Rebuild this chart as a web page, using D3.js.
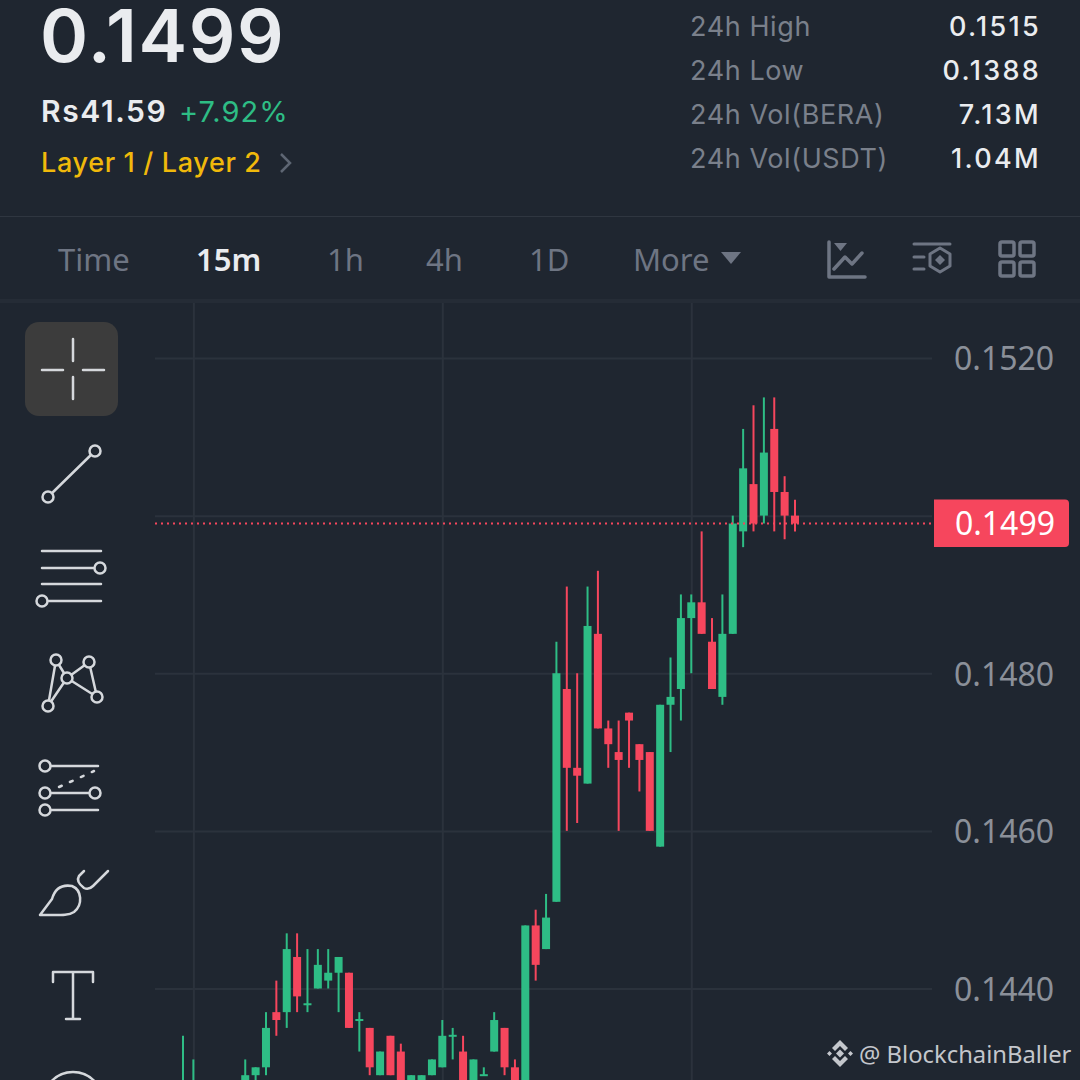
<!DOCTYPE html>
<html>
<head>
<meta charset="utf-8">
<script src="https://cdn.jsdelivr.net/npm/d3@7"></script>
<style>
html, body { margin: 0; padding: 0; background: #1f2630; overflow: hidden; }
svg { display: block; font-family: "Noto Sans", sans-serif; }
</style>
</head>
<body>
<svg id="chart" width="1080" height="1080"></svg>
<script>
// candle values, oldest first (first few and some lows are below the visible area, so estimated)
const open = [.1420,.1418,.1424,.1421,.1422,.1420,.1423,.1429,.1430,.1437,.1437,.1444,.1438,.1440,.1441,.1442,.1442,.1436,.1435,.1429,.1434,.1432,.1427,.1426,.1429,.1430,.1434,.1432,.1427,.1429,.1432,.1435,.1430,.1422,.1448,.1445,.1451,.1478,.1468,.1466,.1485,.1473,.1470,.1475,.1471,.1470,.1458,.1476,.1478,.1487,.1489,.1484,.1477,.1485,.1498,.1504,.1500,.1511,.1503,.1500];
const high = [.1434,.1431,.1426,.1425,.1424,.1426,.1431,.1430,.1437,.1441,.1447,.1447,.1445,.1445,.1445,.1444,.1442,.1437,.1435,.1432,.1434,.1433,.1429,.1429,.1431,.1436,.1435,.1434,.1431,.1430,.1437,.1435,.1431,.1448,.1450,.1452,.1484,.1491,.1480,.1491,.1493,.1474,.1474,.1475,.1471,.1470,.1476,.1482,.1490,.1490,.1498,.1487,.1490,.1500,.1511,.1514,.1515,.1515,.1505,.1502];
const low = [.1415,.1415,.1419,.1418,.1417,.1418,.1421,.1427,.1429,.1434,.1435,.1437,.1437,.1440,.1440,.1437,.1435,.1432,.1429,.1429,.1429,.1425,.1427,.1426,.1429,.1430,.1431,.1425,.1426,.1429,.1432,.1429,.1424,.1420,.1441,.1445,.1451,.1460,.1461,.1466,.1473,.1468,.1460,.1468,.1465,.1460,.1458,.1470,.1474,.1480,.1485,.1478,.1476,.1485,.1496,.1498,.1499,.1498,.1497,.1498];
const close = [.1425,.1424,.1421,.1422,.1420,.1423,.1429,.1430,.1435,.1436,.1445,.1439,.1438,.1443,.1442,.1444,.1435,.1436,.1430,.1432,.1429,.1427,.1429,.1429,.1431,.1434,.1434,.1426,.1431,.1429,.1436,.1430,.1425,.1448,.1443,.1449,.1480,.1468,.1467,.1486,.1473,.1471,.1469,.1474,.1469,.1460,.1476,.1477,.1487,.1489,.1485,.1478,.1485,.1499,.1506,.1499,.1508,.1503,.1500,.1499];
// index of a candle that starts the 6h vertical grid
const gridCandles = [1, 25, 49];
const priceTicks = [.1520, .1500, .1480, .1460, .1440];
const lastPrice = .1499;

const intervals = ["Time", "15m", "1h", "4h", "1D", "More"];
const statLabels = ["24h High", "24h Low", "24h Vol(BERA)", "24h Vol(USDT)"];
const statValues = ["0.1515", "0.1388", "7.13M", "1.04M"];

const green = "#2ebd85", red = "#f6465d", gridColor = "#2b323c", iconColor = "#d5d8dc", tabIcon = "#6e7583";

let svg = d3.select("#chart");

// ---- scales
let x = d3.scaleLinear().domain([0, open.length - 1]).range([183, 795]);
let y = d3.scaleLinear().domain([.1440, .1520]).range([988.5, 358]);

// ---- grid + price axis, the 0.1500 label sits behind the price tag so it is left out
let fmt = d3.format(".4f");
let yAxis = d3.axisRight(y).tickValues(priceTicks).tickFormat(d => d === .1500 ? "" : fmt(d)).tickSize(777).tickPadding(22);
let yG = svg.append("g").attr("transform", "translate(155,0)").call(yAxis);
yG.select(".domain").remove();
yG.selectAll("line").attr("stroke", gridColor).attr("stroke-width", 2);
yG.selectAll("text").attr("fill", "#8b9099").attr("font-size", 32).attr("font-family", "Noto Sans")
    .attr("transform", "translate(0,1.5)");

let xAxis = d3.axisBottom(x).tickValues(gridCandles).tickFormat("").tickSize(780);
let xG = svg.append("g").attr("transform", "translate(0,302)").call(xAxis);
xG.select(".domain").remove();
xG.selectAll("line").attr("stroke", gridColor).attr("stroke-width", 2);

// ---- candles
svg.append("g").selectAll("line")
    .data(open)
    .join("line")
    .attr("x1", (d, i) => x(i))
    .attr("x2", (d, i) => x(i))
    .attr("y1", (d, i) => y(high[i]))
    .attr("y2", (d, i) => y(low[i]))
    .attr("stroke", (d, i) => close[i] >= d ? green : red)
    .attr("stroke-width", 2);

svg.append("g").selectAll("rect")
    .data(open)
    .join("rect")
    .attr("x", (d, i) => x(i) - 4)
    .attr("width", 8)
    .attr("y", (d, i) => y(Math.max(d, close[i])) - (d === close[i] ? 1 : 0))
    .attr("height", (d, i) => Math.max(2, Math.abs(y(d) - y(close[i]))))
    .attr("fill", (d, i) => close[i] >= d ? green : red);

// ---- last price line + tag
svg.append("line")
    .attr("x1", 155).attr("x2", 934)
    .attr("y1", y(lastPrice)).attr("y2", y(lastPrice))
    .attr("stroke", red).attr("stroke-width", 2).attr("stroke-dasharray", "2 4");
svg.append("path")
    .attr("d", "M934,499.5H1065a4,4 0 0 1 4,4V543a4,4 0 0 1 -4,4H934Z")
    .attr("fill", red);
svg.append("text").attr("x", 1005).attr("y", 535).attr("text-anchor", "middle")
    .attr("fill", "#fff").attr("font-size", 32).text(fmt(lastPrice));

// ---- header
function label(px, py, size, fill, weight, txt, anchor, font, spacing) {
    return svg.append("text").attr("x", px).attr("y", py).attr("font-size", size)
        .attr("fill", fill).attr("font-weight", weight).attr("text-anchor", anchor || "start")
        .attr("font-family", font || null).attr("letter-spacing", spacing || null).text(txt);
}
label(40, 62, 73, "#eaecef", 600, "0.1499", null, "Inter", 1.6);
label(41, 122, 30, "#eaecef", 600, "Rs41.59", null, "Inter", 1.6);
label(179, 122, 29, green, 400, "+7.92%", null, "Inter", 1);
label(41, 172, 27, "#f0b90b", 500, "Layer 1 / Layer 2", null, "Inter", 0.65);
svg.append("path").attr("d", "M281,154l9,9l-9,9").attr("fill", "none").attr("stroke", "#5e6673").attr("stroke-width", 2.5);

statLabels.forEach((d, i) => {
    label(690, 36 + i * 44, 27, "#7a808b", 400, d, null, "Inter", 0.6);
    label(1041, 36 + i * 44, 27, "#eaecef", 500, statValues[i], "end", "Inter", 2.3);
});

svg.append("line").attr("x1", 0).attr("x2", 1080).attr("y1", 216.5).attr("y2", 216.5).attr("stroke", "#2f3640").attr("stroke-width", 1);
svg.append("rect").attr("x", 0).attr("y", 299).attr("width", 1080).attr("height", 4).attr("fill", "#252c36");

// ---- interval tabs
const tabX = [58, 196, 327, 426, 529, 633];
intervals.forEach((d, i) => {
    label(tabX[i], 271, 31, i === 1 ? "#eaecef" : "#6e7583", i === 1 ? 600 : 400, d);
});
svg.append("path").attr("d", "M721,252h20l-10,12Z").attr("fill", tabIcon);

function icon(d, color, w) {
    return svg.append("path").attr("d", d).attr("fill", "none").attr("stroke", color).attr("stroke-width", w).attr("stroke-linecap", "round").attr("stroke-linejoin", "round");
}
icon("M829,242V277H865M834,269L845,257L852,264L862,253", tabIcon, 3.5);
svg.append("path").attr("d", "M834,243h13l-6.5,8Z").attr("fill", tabIcon);
icon("M914,244H950M914,257H924M914,269H924", tabIcon, 3);
icon("M940,248L950,254V266L940,272L930,266V254Z", tabIcon, 3);
svg.append("path").attr("d", "M940,255l5,5l-5,5l-5,-5Z").attr("fill", tabIcon);
[[1000, 242], [1020, 242], [1000, 262], [1020, 262]].forEach(p => {
    svg.append("rect").attr("x", p[0]).attr("y", p[1]).attr("width", 14).attr("height", 14).attr("rx", 2)
        .attr("fill", "none").attr("stroke", tabIcon).attr("stroke-width", 3.5);
});

// ---- left drawing tools
svg.append("rect").attr("x", 25).attr("y", 322).attr("width", 93).attr("height", 94).attr("rx", 14).attr("fill", "#3c3c3c");
icon("M73,339V361M73,377V399M42,370H63M83,370H104", iconColor, 2.5);

function knob(cx, cy) {
    svg.append("circle").attr("cx", cx).attr("cy", cy).attr("r", 5.5).attr("fill", "#1f2630").attr("stroke", iconColor).attr("stroke-width", 2.5);
}
icon("M48,497L95,451", iconColor, 2.5); knob(48, 497); knob(95, 451);
icon("M42,551H101M42,568H100M42,584H101M42,601H101", iconColor, 2.5); knob(100, 568); knob(42, 601);
icon("M48,706L56,660L67,678L89,662L97,697L67,678L48,706", iconColor, 2.5);
knob(56, 660); knob(89, 662); knob(67, 678); knob(97, 697); knob(48, 706);
icon("M45,766H98M45,793H95M45,810H98", iconColor, 2.5);
icon("M59,787L94,771", iconColor, 2.5).attr("stroke-dasharray", "3 9");
knob(45, 766); knob(45, 793); knob(95, 793); knob(45, 810);
icon("M40,915L52,899C56,885 66,885 72,886C82,890 83,905 74,912C68,916 60,915 40,915Z", iconColor, 2.5);
icon("M84,871L79,876C76,881 80,885 84,888C88,890 91,888 93,886L108,871", iconColor, 2.5);
icon("M53,982V972H93V982M73,972V1019M66,1019H80", iconColor, 2.5);
svg.append("circle").attr("cx", 73).attr("cy", 1102).attr("r", 30).attr("fill", "none").attr("stroke", iconColor).attr("stroke-width", 2.5);

// ---- watermark
svg.append("path").attr("fill", "#c4c7cc")
    .attr("d", "M840,1040l8,8l-3,3l-5,-5l-5,5l-3,-3ZM840,1049.5l4,4l-4,4l-4,-4ZM829.5,1051l2.5,2.5l-2.5,2.5l-2.5,-2.5ZM850.5,1051l2.5,2.5l-2.5,2.5l-2.5,-2.5ZM835,1056l5,5l5,-5l3,3l-8,8l-8,-8Z");
label(859, 1063, 23.8, "#c4c7cc", 400, "@ BlockchainBaller");
</script>
</body>
</html>
